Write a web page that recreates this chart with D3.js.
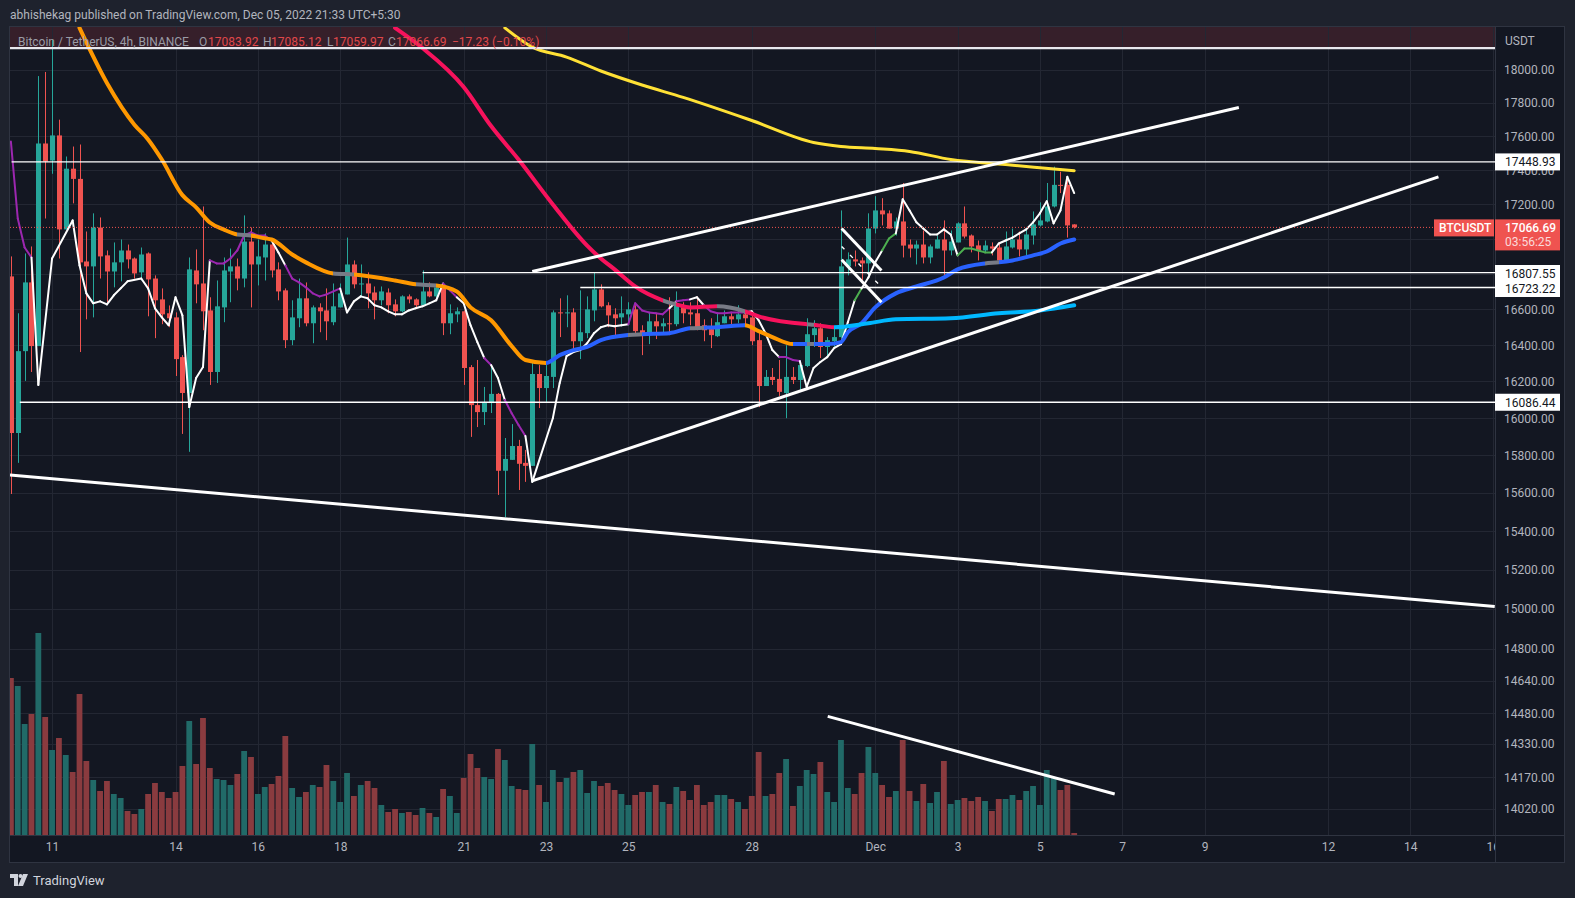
<!DOCTYPE html>
<html>
<head>
<meta charset="utf-8">
<script src="https://cdn.jsdelivr.net/npm/d3@7"></script>
<style>
html,body{margin:0;padding:0;background:#1e222d;overflow:hidden}
svg{display:block}
text{font-family:Roboto,"Liberation Sans",sans-serif}
</style>
</head>
<body>
<svg id="c" width="1575" height="898"></svg>
<script>
// ---------- candles (4h, index 0..155) ----------
const opens=[16786,15920,16367,16752,16395,17558,17457,17606,17055,17409,
17349,16871,16843,17066,16906,16814,16866,16934,16888,16809,
16917,16774,16656,16578,16555,16334,16137,16820,16746,16594,
16252,16611,16814,16843,16774,16985,16854,16894,16968,16826,
16707,16428,16550,16662,16522,16611,16594,16528,16611,16684,
16854,16741,16746,16695,16651,16695,16628,16589,16673,16656,
16623,16701,16673,16729,16522,16572,16589,16279,16071,16033,
16082,16132,15718,15776,15850,15760,15744,16241,16164,16225,
16583,16578,16583,16422,16467,16594,16712,16623,16572,16555,
16572,16600,16483,16456,16533,16505,16522,16517,16623,16583,
16578,16511,16489,16450,16522,16561,16544,16572,16555,16428,
16175,16225,16214,16137,16225,16208,16285,16456,16494,16390,
16422,16445,16843,16883,16877,16860,17060,17165,17148,17060,
17101,16968,16945,16968,16894,16945,16997,16934,16980,17090,
17020,16963,16934,16957,16951,16877,16951,16997,16940,17020,
17078,17101,17188,17314,17314,17083.92];
const highs=[16900,16578,16917,16957,17963,17988,18183,17700,17481,17540,
17552,17043,17148,17124,16934,16980,16997,16968,16894,16951,
16923,16792,16718,16622,16583,16345,16894,16940,17188,16668,
16763,16894,16945,16888,17136,17066,16997,17032,17003,16866,
16718,16651,16774,16752,16622,16634,16718,16746,16746,17008,
16877,16854,16809,16729,16729,16718,16656,16679,16684,16662,
16820,16752,16724,16746,16628,16611,16594,16290,16318,16170,
16285,16137,15893,15968,15883,15829,16318,16290,16290,16594,
16662,16679,16606,16707,16673,16809,16741,16640,16606,16673,
16640,16623,16511,16583,16578,16550,16668,16701,16640,16640,
16673,16544,16550,16578,16594,16583,16623,16594,16578,16483,
16263,16274,16318,16400,16279,16318,16550,16539,16522,16445,
16494,17165,16923,16934,16894,17148,17248,17236,17165,17124,
17325,16997,16991,17049,16968,17020,17107,17049,17096,17188,
17026,16991,16991,16980,16980,17043,17060,17043,17060,17159,
17212,17325,17421,17391,17361,17085.12];
const lows=[15595,15760,16203,16252,16395,17118,17379,16888,17055,17206,
16362,16544,16555,16774,16640,16724,16758,16831,16774,16763,
16561,16439,16517,16500,16230,15915,15819,16634,16483,16181,
16192,16528,16640,16707,16724,16611,16735,16763,16780,16651,
16384,16400,16500,16505,16411,16472,16428,16511,16611,16684,
16718,16668,16606,16544,16623,16578,16561,16583,16634,16606,
16617,16668,16656,16456,16461,16528,16181,15899,15952,15963,
16028,15590,15473,15776,15616,15659,15744,16055,16088,16164,
16445,16500,16357,16323,16439,16533,16611,16500,16450,16505,
16511,16467,16345,16406,16434,16467,16456,16505,16522,16511,
16483,16422,16384,16445,16522,16500,16522,16511,16400,16060,
16175,16181,16121,16000,16186,16153,16279,16390,16329,16334,
16384,16439,16792,16843,16763,16792,17032,17078,17060,17020,
16894,16894,16854,16860,16860,16945,16792,16906,16980,17003,
16923,16877,16923,16906,16866,16877,16945,16900,16906,16968,
17072,17096,17182,17266,17008,17059.97];
const closes=[15920,16367,16752,16395,17558,17451,17606,17055,17409,17349,
16866,16843,17066,16900,16814,16866,16934,16883,16803,16911,
16769,16651,16572,16550,16323,16137,16826,16741,16589,16252,
16617,16820,16843,16774,16985,16854,16900,16968,16820,16701,
16428,16555,16662,16522,16611,16589,16533,16617,16690,16854,
16741,16746,16690,16651,16701,16623,16589,16673,16656,16623,
16701,16673,16724,16522,16578,16589,16274,16071,16033,16088,
16132,15718,15781,15850,15755,15744,16241,16164,16230,16583,
16578,16583,16422,16472,16600,16712,16617,16566,16550,16578,
16600,16478,16456,16533,16505,16522,16517,16623,16578,16572,
16500,16483,16456,16528,16561,16544,16572,16550,16422,16175,
16225,16208,16143,16225,16208,16290,16461,16494,16390,16428,
16445,16843,16883,16871,16860,17060,17165,17142,17060,17101,
16962,16945,16968,16894,16957,16997,16934,16985,17090,17014,
16957,16934,16963,16945,16877,16957,16997,16940,17026,17084,
17107,17188,17314,17308,17078,17066.69];
// ---------- volume (hundreds of BTC) ----------
const volumes=[157,149,111,121,202,118,85,97,80,63,
141,74,55,44,54,41,37,24,21,26,
41,52,43,37,43,69,114,71,117,67,
56,55,50,61,84,78,41,48,51,59,
99,47,38,43,50,48,70,54,33,62,
39,50,54,47,30,23,26,22,23,20,
27,22,18,46,39,22,57,81,67,58,
56,86,75,49,46,45,91,50,33,65,
53,57,63,65,42,54,49,52,45,41,
30,40,43,43,50,33,31,48,44,35,
50,30,33,40,40,36,33,26,39,83,
39,41,62,76,29,49,65,61,73,43,
33,95,47,41,62,88,62,50,38,44,
95,44,34,51,32,43,74,31,35,37,
34,38,34,24,36,36,40,35,44,49,
30,65,57,45,50,2];
// ---------- fast moving average: vertex candle, price, trend state ----------
const fastIdx=[0,1,2,3,4,6,9,10,11,12,13,14,15,16,17,19,20,21,22,23,24,25,26,27,28,29,
30,31,32,33,34,35,36,37,38,39,40,41,42,43,44,45,46,47,48,49,50,51,52,53,54,55,56,57,58,59,60,61,62,63,
64,65,66,67,68,69,70,71,72,73,74,75,76,79,80,81,82,83,84,85,86,87,88,89,90,91,92,93,94,95,96,97,98,99,100,
101,102,103,104,105,106,107,108,109,110,111,112,113,114,115,116,117,118,119,120,121,122,123,124,125,126,127,128,129,130,
131,132,133,134,135,136,137,138,139,140,141,142,143,144,145,146,147,148,149,150,151,152,153,154,155];
const fastPrice=[17570,17118,16951,16894,16181,16888,17107,16849,16690,16634,16645,16628,16679,16718,16758,16774,16718,16606,16555,16511,16668,16566,16060,16219,16279,16877,
16860,16860,16888,16934,17020,17038,17020,17020,16991,16923,16849,16774,16752,16724,16690,16673,16684,16701,16718,16583,16645,16673,16662,16623,16611,16589,16572,16572,16594,16606,16617,16634,16651,16746,
16707,16668,16634,16511,16417,16329,16290,16219,16099,16027,15963,15904,15659,16000,16192,16340,16362,16373,16411,16467,16500,16511,16505,16511,16517,16634,16594,16583,16578,16572,16606,16645,16651,16656,16668,
16623,16589,16578,16578,16583,16583,16583,16589,16539,16467,16373,16334,16334,16318,16312,16170,16274,16307,16334,16384,16406,16528,16651,16718,16780,16866,16934,17003,17032,17230,
17165,17096,17060,17026,17026,17055,17026,16906,16945,16945,16934,16923,16923,16974,16991,17008,17032,17055,17096,17148,17218,17090,17165,17361,17266];
const fastState=["d","d","d","d","u","u","u","u","u","u","u","u","u","u","u","u","u","u","u","u","u","u","u","u","u","u",
"d","d","d","d","d","d","d","d","d","u","u","d","d","d","d","d","d","d","d","u","u","u","u","u","u","u","u","u","u","u","u","u","u","u",
"d","d","u","u","u","u","d","u","u","d","d","d","u","u","u","u","u","u","u","u","u","u","u","u","u","d","d","d","d","d","d","u","d","d","u",
"u","d","d","d","d","d","d","u","u","u","u","u","d","d","d","u","u","u","u","u","u","u","u","k","u","u","u","k","k","u",
"u","u","u","u","u","u","u","u","k","k","k","k","k","u","u","u","u","u","u","u","u","u","u","u","u"];
// ---------- 50 period average ----------
const midIdx=[10,14,18,20,22,25,27,29,31,33,35,37,38,41,43,47,50,56,59,62,65,67,70,73,75,78,
80,82,84,86,90,92,96,99,101,103,107,109,111,114,116,117,119,121,122,124,126,129,132,136,138,142,144,146,149,151,153,155];
const midPrice=[18258,17921,17670,17582,17463,17254,17183,17095,17055,17026,17020,17004,16997,16911,16866,16803,16797,16763,16741,16735,16701,16611,16539,16395,16318,16302,
16345,16373,16390,16428,16456,16461,16467,16494,16497,16500,16511,16478,16445,16406,16406,16406,16406,16417,16472,16522,16611,16690,16729,16780,16826,16860,16866,16877,16906,16928,16974,16997];
const midState=["o","o","o","o","o","o","o","o","o","o","n","o","o","o","o","o","n","o","o","n","o","o","o","o","o","o",
"b","b","b","b","b","n","b","b","n","b","b","o","o","o","b","n","b","b","b","b","b","b","b","b","b","b","n","b","b","b","b","b"];
// ---------- 100 period average ----------
const slowIdx=[56,60,66,70,74,79,84,86,88,91,95,97,99,103,107,109,116,117,120,125,129,137,144,150,155];
const slowPrice=[18258,18134,17897,17662,17463,17200,16962,16888,16826,16729,16651,16628,16611,16617,16589,16561,16517,16514,16500,16522,16544,16550,16578,16594,16623];
const slowState=["r","r","r","r","r","r","r","r","r","r","r","n","r","r","n","r","r","n","r","c","c","c","c","c","c"];
// ---------- 200 period average ----------
const longIdx=[72,76,81,86,92,98,108,117,121,126,131,137,145,150,155];
const longPrice=[18258,18140,18079,17994,17909,17834,17695,17564,17540,17528,17511,17463,17433,17415,17397];
// ---------- drawings: candle index / price anchors ----------
const channelUpper=[[76,16814],[179,17773]];
const channelLower=[[76,15664],[208.1,17361]];
const longSupport=[[-0.13,15696],[216.3,15012]];
const volumeTrend=[[119.07,14465],[160.9,14090]];
const flagTop=[[121.1,17060],[126.9,16820]];
const flagBottom=[[121.1,16881],[126.9,16640]];
const flagMid=[[121.1,16957],[126.9,16726]];
const levelPrices=[18134,17448.93,16807.55,16723.22,16086.44];
const levelStarts=[-0.13,0.1,60,83,1.3];
const levelLabels=[null,"17448.93","16807.55","16723.22","16086.44"];
// ---------- axes ----------
const priceTicks=[18000,17800,17600,17400,17200,17000,16800,16600,16400,16200,16000,15800,15600,15400,15200,15000,14800,14640,14480,14330,14170,14020];
const dayIdx=[6,24,36,48,66,78,90,108,126,138,150,162,174,192,204,216];
const dayLabels=["11","14","16","18","21","23","25","28","Dec","3","5","7","9","12","14","16"];
const lastPrice=17066.69;

const L=10,R=1495,T=27,B=835,FR=1564,FB=862;
const svg=d3.select("#c");
const x=d3.scaleLinear().domain([0,216]).range([10.9,1492.66]);
const y=d3.scaleLog().domain([18000,14020]).range([70,808.7]);
const v=d3.scaleLinear().domain([0,202]).range([B,B-202]);

const defs=svg.append("defs");
defs.append("clipPath").attr("id","plot").append("rect")
  .attr("x",L).attr("y",T).attr("width",R-L).attr("height",B-T);
defs.append("clipPath").attr("id","timeclip").append("rect")
  .attr("x",L).attr("y",B).attr("width",R-L).attr("height",FB-B);

svg.append("rect").attr("x",0).attr("y",0).attr("width",1575).attr("height",898).attr("fill","#1e222d");
svg.append("rect").attr("x",L).attr("y",T).attr("width",FR-L).attr("height",FB-T).attr("fill","#131722");

const plot=svg.append("g").attr("clip-path","url(#plot)");
// band above the top level
plot.append("rect").attr("x",L).attr("y",T).attr("width",R-L).attr("height",y(levelPrices[0])-T).attr("fill","#361f2a");
// grid
const grid=plot.append("g").attr("stroke","#232733").attr("stroke-width",1);
grid.selectAll("line.h").data(priceTicks).join("line").attr("class","h")
  .attr("x1",L).attr("x2",R).attr("y1",d=>Math.round(y(d))+.5).attr("y2",d=>Math.round(y(d))+.5);
grid.selectAll("line.v").data(dayIdx).join("line").attr("class","v")
  .attr("y1",T).attr("y2",B).attr("x1",d=>Math.round(x(d))+.5).attr("x2",d=>Math.round(x(d))+.5);

const idx=d3.range(opens.length);
const up=i=>closes[i]>=opens[i];
// volume
plot.append("g").selectAll("rect").data(idx).join("rect")
  .attr("x",i=>x(i)-2.9).attr("width",5.8)
  .attr("y",i=>v(volumes[i])).attr("height",i=>B-v(volumes[i]))
  .attr("fill",i=>up(i)?"#216a68":"#8a3b3f");
// candles
const cg=plot.append("g");
cg.selectAll("line").data(idx).join("line")
  .attr("x1",i=>Math.round(x(i))+.5).attr("x2",i=>Math.round(x(i))+.5)
  .attr("y1",i=>y(highs[i])).attr("y2",i=>y(lows[i]))
  .attr("stroke",i=>up(i)?"#26a69a":"#ef5350").attr("stroke-width",1);
cg.selectAll("rect").data(idx).join("rect")
  .attr("x",i=>Math.round(x(i))-2).attr("width",5)
  .attr("y",i=>y(Math.max(opens[i],closes[i])))
  .attr("height",i=>Math.max(1,Math.abs(y(opens[i])-y(closes[i]))))
  .attr("fill",i=>up(i)?"#26a69a":"#ef5350");

// fast average: straight segments, coloured by state
const seg=(ids,prices,states,colors,width)=>{
  const g=plot.append("g").attr("fill","none").attr("stroke-width",width).attr("stroke-linecap","round").attr("stroke-linejoin","round");
  const ln=d3.line().x(d=>x(d[0])).y(d=>y(d[1]));
  for(let k=1;k<ids.length;k++){
    g.append("path").attr("d",ln([[ids[k-1],prices[k-1]],[ids[k],prices[k]]])).attr("stroke",colors[states[k]]);
  }
};
seg(fastIdx,fastPrice,fastState,{u:"#ffffff",d:"#9c27b0",k:"#4caf50"},2);

// slower averages: one smooth path whose stroke changes colour with a hard-stop gradient
const smooth=(id,ids,prices,states,colors,width)=>{
  const grad=defs.append("linearGradient").attr("id",id).attr("gradientUnits","userSpaceOnUse")
    .attr("x1",L).attr("x2",R).attr("y1",0).attr("y2",0);
  const off=i=>(x(i)-L)/(R-L);
  for(let k=1;k<ids.length;k++){
    grad.append("stop").attr("offset",off(ids[k-1])).attr("stop-color",colors[states[k]]);
    grad.append("stop").attr("offset",off(ids[k])).attr("stop-color",colors[states[k]]);
  }
  const ln=d3.line().x(d=>x(d[0])).y(d=>y(d[1])).curve(d3.curveMonotoneX);
  plot.append("path").attr("d",ln(ids.map((d,k)=>[d,prices[k]])))
    .attr("fill","none").attr("stroke",`url(#${id})`).attr("stroke-width",width)
    .attr("stroke-linecap","round").attr("stroke-linejoin","round");
};
smooth("gMid",midIdx,midPrice,midState,{o:"#ff9800",b:"#2962ff",n:"#787b86"},4);
smooth("gSlow",slowIdx,slowPrice,slowState,{r:"#f7125c",c:"#00b8ff",n:"#787b86"},4);
smooth("gLong",longIdx,longPrice,longIdx.map(()=>"y"),{y:"#ffe135"},3);

// dotted last-price line
plot.append("line").attr("x1",L).attr("x2",1434).attr("y1",y(lastPrice)).attr("y2",y(lastPrice))
  .attr("stroke","#ef5350").attr("stroke-width",1).attr("stroke-dasharray","1,2");

// horizontal levels
plot.append("g").selectAll("line").data(levelPrices).join("line")
  .attr("x1",(d,i)=>x(levelStarts[i])).attr("x2",R)
  .attr("y1",d=>y(d)).attr("y2",d=>y(d))
  .attr("stroke",(d,i)=>i===0?"#e8e8ee":"#ffffff").attr("stroke-width",(d,i)=>i===0?2.2:1.4);

// trend lines
const tl=d3.line().x(d=>x(d[0])).y(d=>y(d[1]));
const tg=plot.append("g").attr("fill","none").attr("stroke","#ffffff").attr("stroke-width",3);
[channelUpper,channelLower,longSupport,volumeTrend,flagTop,flagBottom].forEach(p=>tg.append("path").attr("d",tl(p)));
tg.append("path").attr("d",tl(flagMid)).attr("stroke-width",1.4).attr("stroke-dasharray","4,8");

// frame lines
const fr=svg.append("g").attr("stroke","#2f3441").attr("stroke-width",1);
fr.append("line").attr("x1",R+.5).attr("x2",R+.5).attr("y1",T).attr("y2",FB);
fr.append("line").attr("x1",L).attr("x2",FR).attr("y1",B+.5).attr("y2",B+.5);
fr.append("rect").attr("x",L-.5).attr("y",T-.5).attr("width",FR-L+1).attr("height",FB-T+1).attr("fill","none");

// price axis
const axisR=d3.axisRight(y).tickValues(priceTicks).tickFormat(d3.format(".2f")).tickSize(0).tickPadding(9);
const ga=svg.append("g").attr("transform",`translate(${R},0)`).call(axisR);
ga.select(".domain").remove();
ga.selectAll("text").attr("fill","#b2b5be").attr("font-size",12).attr("font-family","Roboto");
svg.append("text").attr("x",1505).attr("y",45).attr("fill","#b2b5be").attr("font-size",12).text("USDT");

// time axis
const axisB=d3.axisBottom(x).tickValues(dayIdx).tickFormat((d,i)=>dayLabels[i]).tickSize(0).tickPadding(0);
const gb=svg.append("g").attr("clip-path","url(#timeclip)").append("g").attr("transform",`translate(0,${B+7})`).call(axisB);
gb.select(".domain").remove();
gb.selectAll("text").attr("fill","#b2b5be").attr("font-size",12).attr("font-family","Roboto");

// level labels
const lab=svg.append("g");
levelPrices.forEach((p,i)=>{
  if(!levelLabels[i])return;
  const cy=i===2?273.5:i===3?288.5:y(p);
  lab.append("rect").attr("x",R).attr("y",cy-8.5).attr("width",65).attr("height",i===2?15.5:17).attr("fill","#ffffff");
});
levelPrices.forEach((p,i)=>{
  if(!levelLabels[i])return;
  const cy=i===2?273.5:i===3?288.5:y(p);
  lab.append("text").attr("x",1505).attr("y",cy+4.3).attr("fill","#131722").attr("font-size",12).text(levelLabels[i]);
});
// last price labels
const ly=y(lastPrice);
lab.append("rect").attr("x",1434).attr("y",ly-8).attr("width",60).attr("height",17).attr("fill","#ef5350");
lab.append("text").attr("x",1439).attr("y",ly+4.5).attr("fill","#ffffff").attr("font-size",12).attr("font-weight",500).text("BTCUSDT");
lab.append("rect").attr("x",R).attr("y",ly-8).attr("width",65).attr("height",31).attr("fill","#ef5350");
lab.append("text").attr("x",1505).attr("y",ly+4.5).attr("fill","#ffffff").attr("font-size",12).attr("font-weight",500).text("17066.69");
lab.append("text").attr("x",1505).attr("y",ly+18.5).attr("fill","#fbdada").attr("font-size",12).text("03:56:25");

// header
svg.append("text").attr("x",10).attr("y",19).attr("fill","#b2b5be").attr("font-size",12).text("abhishekag published on TradingView.com, Dec 05, 2022 21:33 UTC+5:30");
const leg=svg.append("g").attr("font-size",12);
[["Bitcoin / TetherUS, 4h, BINANCE",18,"#9a9ca6"],["O",199,"#9a9ca6"],["17083.92",208,"#e0484a"],["H",263,"#9a9ca6"],["17085.12",271,"#e0484a"],
 ["L",327,"#9a9ca6"],["17059.97",333,"#e0484a"],["C",388,"#9a9ca6"],["17066.69",396,"#e0484a"],["−17.23 (−0.10%)",452,"#e0484a"]]
 .forEach(t=>leg.append("text").attr("x",t[1]).attr("y",46).attr("fill",t[2]).text(t[0]));

// footer logo
const logo=svg.append("g").attr("transform","translate(10,874)").attr("fill","#d1d4dc");
logo.append("path").attr("d","M0 0H8V12H4V4H0Z");
logo.append("circle").attr("cx",10.5).attr("cy",2).attr("r",2);
logo.append("path").attr("d","M13 0H18L13 12H8Z");
svg.append("text").attr("x",33).attr("y",885).attr("fill","#d1d4dc").attr("font-size",13).text("TradingView");
</script>
</body>
</html>
